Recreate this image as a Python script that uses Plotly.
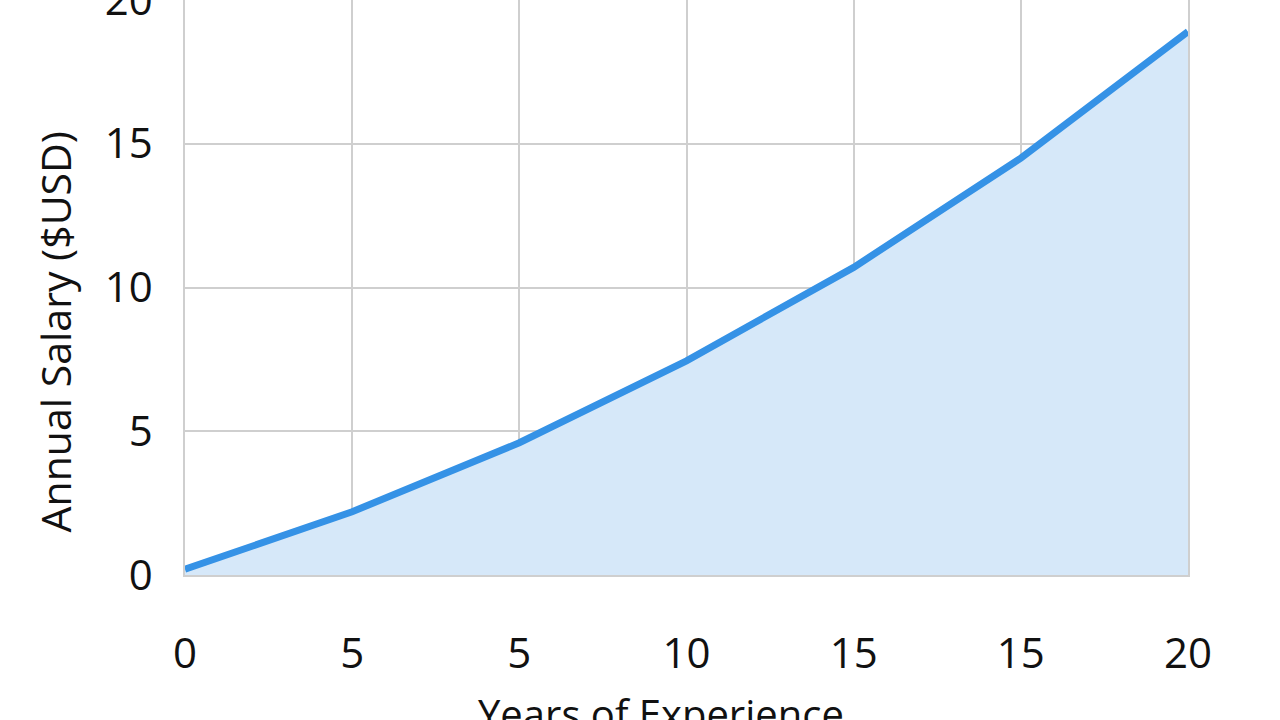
import plotly.graph_objects as go

x_pos = [0, 1, 2, 3, 4, 5, 6]
x_labels = ["0", "5", "5", "10", "15", "15", "20"]
salary = [0.2, 2.2, 4.6, 7.45, 10.7, 14.5, 18.9]
y_ticks = [0, 5, 10, 15, 20]

FONT = "Open Sans, Noto Sans, sans-serif"
GRID = "#cfcfcf"

fig = go.Figure()
fig.add_trace(go.Scatter(
    x=x_pos, y=salary, mode="lines",
    line=dict(color="#3592e6", width=7),
    fill="tozeroy", fillcolor="#d6e8f9",
    hoverinfo="skip", showlegend=False,
))

fig.update_layout(
    template="none",
    width=1280, height=720,
    margin=dict(l=185, r=92, t=0, b=145, pad=0),
    paper_bgcolor="white", plot_bgcolor="white",
    font=dict(family=FONT, color="#111111"),
    xaxis=dict(
        range=[0, 6], tickvals=x_pos, ticktext=x_labels, automargin=False,
        showgrid=True, gridcolor=GRID, gridwidth=1.5,
        zeroline=False, showline=True, linecolor=GRID, linewidth=1.5, mirror=True,
        ticks="outside", ticklen=41, tickcolor="rgba(0,0,0,0)",
        ticklabeloverflow="allow",
        tickfont=dict(size=42, family=FONT, color="#111111"),
    ),
    yaxis=dict(
        range=[0, 20], tickvals=y_ticks, automargin=False,
        showgrid=True, gridcolor=GRID, gridwidth=1.5,
        zeroline=False, showline=True, linecolor=GRID, linewidth=1.5, mirror=True,
        ticks="outside", ticklen=22, tickcolor="rgba(0,0,0,0)",
        ticklabeloverflow="allow",
        tickfont=dict(size=42, family=FONT, color="#111111"),
    ),
    annotations=[
        dict(text="Years of Experience", xref="paper", yref="paper",
             x=0.475, y=-0.24, xanchor="center", yanchor="middle",
             showarrow=False, font=dict(size=40, family=FONT, color="#111111")),
        dict(text="Annual Salary ($USD)", xref="paper", yref="paper",
             x=-0.13, y=0.423, xanchor="center", yanchor="middle", textangle=-90,
             showarrow=False, font=dict(size=41, family=FONT, color="#111111")),
    ],
)

fig.write_html("out.html", config={"displayModeBar": False},
               post_script="document.body.style.margin='0';")
